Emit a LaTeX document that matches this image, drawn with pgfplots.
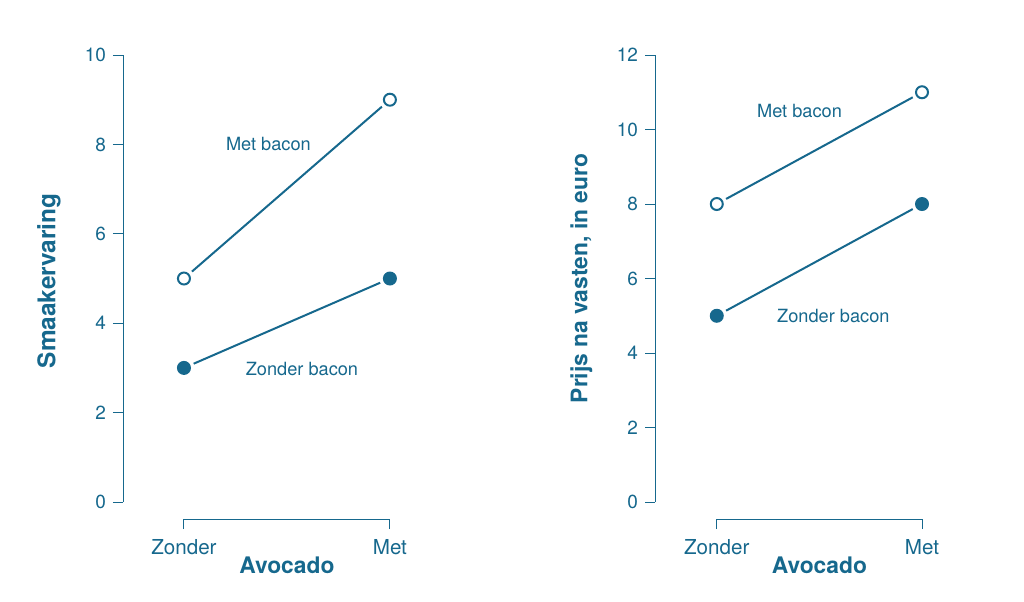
\documentclass[border=0pt]{standalone}
\usepackage{fontspec}
\setmainfont{TeX Gyre Heros}
\usepackage{pgfplots}
\pgfplotsset{compat=1.18}
\definecolor{tc}{RGB}{22,104,141}
\pgfplotsset{
  common/.style={
    scale only axis, clip=false,
    axis lines=left,
    x axis line style={draw=none}, y axis line style={draw=none},
    tick align=outside, major tick length=5pt,
    tick style={draw=tc, line width=0.5pt},
    xtick={0,1}, xticklabels={Zonder,Met},
    yticklabel style={font=\fontsize{9.5}{11}\selectfont, text=tc},
    xticklabel style={font=\fontsize{10.3}{12}\selectfont, text=tc, yshift=-1.5pt},
    /pgf/number format/assume math mode=true,
    height=232pt,
    xmax=1.15,
    anchor=south west,
  },
}
\tikzset{
  lns/.style={draw=tc, line width=1pt, shorten <=5.3pt, shorten >=5.3pt},
  openm/.style={only marks, mark=*, mark size=3pt, mark options={draw=tc, fill=white, line width=1pt}},
  fillm/.style={only marks, mark=*, mark size=3.2pt, mark options={draw=tc, fill=tc, line width=0.6pt}},
  ann/.style={text=tc, font=\fontsize{9.1}{10}\selectfont},
  lab/.style={text=tc, font=\fontsize{11.4}{13}\selectfont\bfseries},
}
\begin{document}
\begin{tikzpicture}
\useasboundingbox (0,0) rectangle (512pt,-300.5pt);
\begin{axis}[common, at={(61.5pt,-259.5pt)}, width=148.9pt,
  xmin=-0.296, ymin=-0.38, ymax=10, ytick={0,2,4,6,8,10}]
  \addplot[lns] coordinates {(0,5) (1,9)};
  \addplot[openm] coordinates {(0,5) (1,9)};
  \addplot[lns] coordinates {(0,3) (1,5)};
  \addplot[fillm] coordinates {(0,3) (1,5)};
  \draw[tc, line width=0.5pt] (axis cs:0,-0.38) -- (axis cs:1,-0.38);
  \draw[tc, line width=0.5pt] (axis cs:-0.296,0) -- (axis cs:-0.296,10);
  \node[ann] at (axis cs:0.41,8) {Met bacon};
  \node[ann] at (axis cs:0.573,2.975) {Zonder bacon};
  \node[lab] at (axis cs:0.5,-1.41) {Avocado};
  \node[lab, font=\fontsize{12.2}{14}\selectfont\bfseries, rotate=90] at (axis cs:-0.655,4.95) {Smaakervaring};
\end{axis}
\begin{axis}[common, at={(327.5pt,-259.5pt)}, width=148.9pt,
  xmin=-0.301, ymin=-0.456, ymax=12, ytick={0,2,4,6,8,10,12}]
  \addplot[lns] coordinates {(0,8) (1,11)};
  \addplot[openm] coordinates {(0,8) (1,11)};
  \addplot[lns] coordinates {(0,5) (1,8)};
  \addplot[fillm] coordinates {(0,5) (1,8)};
  \draw[tc, line width=0.5pt] (axis cs:0,-0.456) -- (axis cs:1,-0.456);
  \draw[tc, line width=0.5pt] (axis cs:-0.301,0) -- (axis cs:-0.301,12);
  \node[ann] at (axis cs:0.403,10.5) {Met bacon};
  \node[ann] at (axis cs:0.568,4.99) {Zonder bacon};
  \node[lab] at (axis cs:0.5,-1.69) {Avocado};
  \node[lab, rotate=90] at (axis cs:-0.66,6) {Prijs na vasten, in euro};
\end{axis}
\end{tikzpicture}
\end{document}
